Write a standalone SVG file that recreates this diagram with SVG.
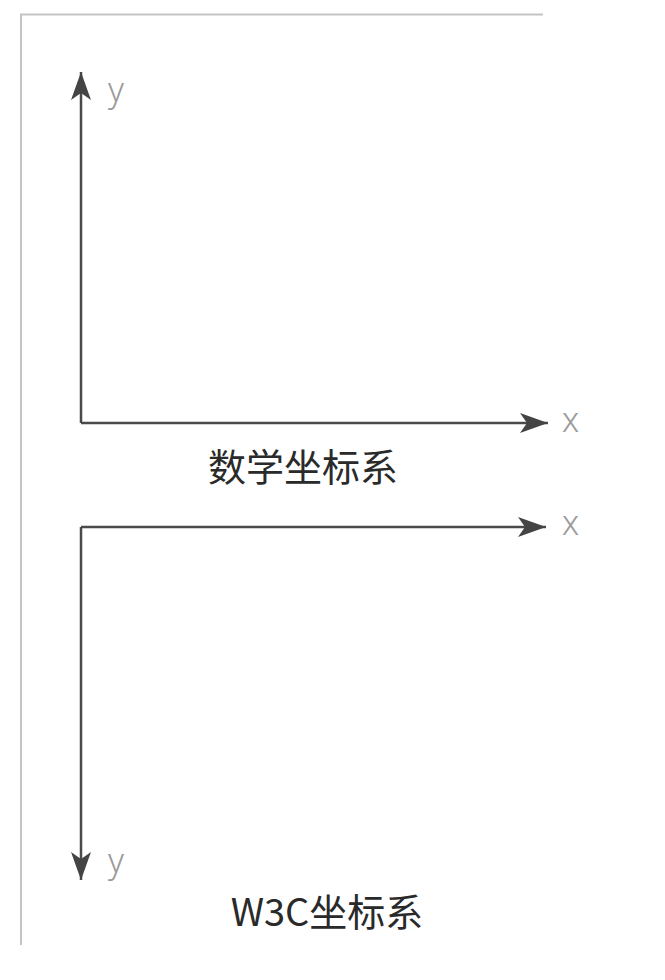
<svg xmlns="http://www.w3.org/2000/svg" width="665" height="980" viewBox="0 0 665 980">
<style>
.axis{stroke:#4a4a4a;stroke-width:2.5;fill:none}
.frame{stroke:#c4c4c4;stroke-width:2;fill:none}
.lbl{font-family:"Noto Sans","DejaVu Sans",sans-serif;font-size:34px;fill:#9a9a9a;font-weight:300}
.cap{font-family:"Noto Sans CJK SC","Noto Sans",sans-serif;font-size:38px;fill:#2a2a2a}
</style>
<defs>
<marker id="ah" markerWidth="30" markerHeight="24" refX="28" refY="12" orient="auto" markerUnits="userSpaceOnUse">
<path d="M0,2 L28,12 L0,22 L7,12 Z" fill="#444"/>
</marker>
</defs>
<rect width="665" height="980" fill="#fff"/>
<path class="frame" d="M21,945 V14.5 H543"/>
<g id="connectors">
<path class="axis" d="M81,423 V72" marker-end="url(#ah)"/>
<path class="axis" d="M81,423 H548" marker-end="url(#ah)"/>
<path class="axis" d="M81,527 H546" marker-end="url(#ah)"/>
<path class="axis" d="M81,527 V880" marker-end="url(#ah)"/>
</g>
<g id="math-axes">
<text class="lbl" x="108" y="102">y</text>
<text class="lbl" x="562" y="432">x</text>
<text class="cap" x="303" y="481" text-anchor="middle">数学坐标系</text>
</g>
<g id="w3c-axes">
<text class="lbl" x="562" y="535">x</text>
<text class="lbl" x="108" y="873">y</text>
<text class="cap" x="327" y="926" text-anchor="middle">W3C坐标系</text>
</g>
</svg>
